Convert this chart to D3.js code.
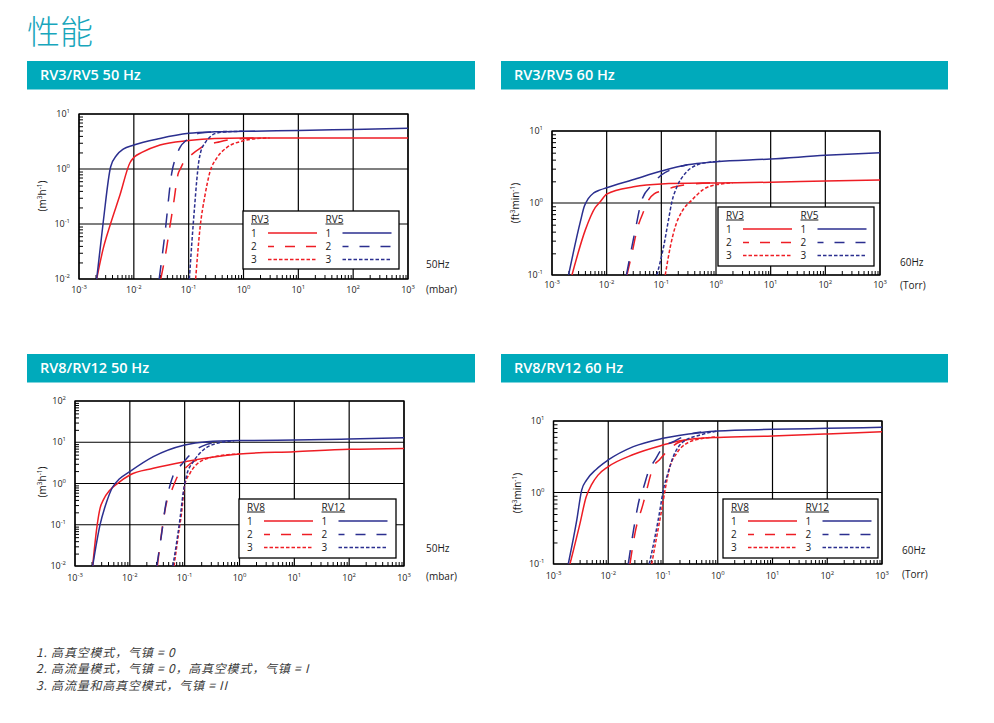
<!DOCTYPE html>
<html><head><meta charset="utf-8">
<script src="https://cdn.jsdelivr.net/npm/d3@7"></script>
<style>
body{margin:0;background:#fff;}
svg text{font-family:"Open Sans","Noto Sans",sans-serif;fill:#1a1a1a;}
</style></head><body>
<svg id="c" width="994" height="723"></svg>
<script>
// ---------------- DATA ----------------
const pageTitle = "性能";
const chartTitles = ["RV3/RV5 50 Hz", "RV3/RV5 60 Hz", "RV8/RV12 50 Hz", "RV8/RV12 60 Hz"];
const xTickExps = [-3, -2, -1, 0, 1, 2, 3];
const legendRows = ["1", "2", "3"];
const footnotes = [
  "1. 高真空模式，气镇 = 0",
  "2. 高流量模式，气镇 = 0，高真空模式，气镇 = I",
  "3. 高流量和高真空模式，气镇 = II"
];

// RV3/RV5 50 Hz  (pressure mbar, speed m3/h)
const rv3_50_1 = [[0.0021,0.01],[0.00277,0.036],[0.0037,0.096],[0.0056,0.34],[0.0085,1.3],[0.0102,1.65],[0.014,2.0],[0.03,2.73],[0.1,3.3],[0.3,3.6],[1,3.68],[10,3.67],[100,3.66],[1000,3.66]];
const rv5_50_1 = [[0.0021,0.01],[0.00277,0.11],[0.00378,1.1],[0.0049,1.8],[0.0064,2.3],[0.01,2.73],[0.03,3.6],[0.1,4.46],[0.3,4.75],[1,4.85],[10,5.0],[100,5.25],[1000,5.5]];
const rv3_50_2 = [[0.031,0.01],[0.04,0.039],[0.0438,0.071],[0.0525,0.22],[0.0647,0.835],[0.0704,1.0],[0.08,1.3],[0.096,1.57],[0.161,2.38],[0.373,3.14],[1,3.6],[2,3.66]];
const rv5_50_2 = [[0.029,0.01],[0.037,0.068],[0.049,0.835],[0.0605,1.8],[0.07,2.5],[0.092,3.37],[0.161,4.5],[0.3,4.75],[0.5,4.8]];
const rv3_50_3 = [[0.134,0.01],[0.161,0.084],[0.199,0.337],[0.245,0.89],[0.324,1.57],[0.494,2.45],[1,3.25],[2,3.62],[3,3.66]];
const rv5_50_3 = [[0.103,0.01],[0.115,0.05],[0.128,0.2],[0.14,0.6],[0.152,1.3],[0.165,2.0],[0.2,3.0],[0.25,3.9],[0.3,4.4],[0.5,4.75],[1,4.85]];

// RV3/RV5 60 Hz  (pressure Torr, speed ft3/min)
const rv3_60_1 = [[0.00232,0.1],[0.00406,0.42],[0.0062,0.87],[0.00764,1.04],[0.01,1.33],[0.031,1.68],[0.1,1.84],[1,1.9],[10,1.94],[100,2.02],[1000,2.08]];
const rv5_60_1 = [[0.00201,0.1],[0.0033,0.55],[0.0039,0.9],[0.0046,1.15],[0.0058,1.38],[0.0076,1.52],[0.01,1.63],[0.03,2.1],[0.1,2.78],[0.3,3.4],[1,3.75],[10,4.08],[100,4.59],[1000,5.0]];
const rv3_60_2 = [[0.0235,0.1],[0.029,0.2],[0.0358,0.42],[0.0487,0.8],[0.0583,1.1],[0.075,1.35],[0.103,1.47],[0.18,1.68],[0.4,1.85],[1,1.9]];
const rv5_60_2 = [[0.023,0.1],[0.0333,0.42],[0.044,1.1],[0.0673,1.78],[0.1,2.45],[0.15,2.9],[0.3,3.4]];
const rv3_60_3 = [[0.118,0.1],[0.146,0.247],[0.18,0.47],[0.238,0.76],[0.363,1.1],[0.59,1.55],[1.04,1.8],[2,1.9]];
const rv5_60_3 = [[0.083,0.1],[0.11,0.247],[0.135,0.58],[0.156,1.04],[0.193,1.68],[0.274,2.58],[0.447,3.37],[0.8,3.7],[1.2,3.8]];

// RV8/RV12 50 Hz  (pressure mbar, speed m3/h)
const rv8_50_1 = [[0.0021,0.01],[0.00249,0.082],[0.00286,0.25],[0.00329,0.4],[0.00436,0.7],[0.00577,0.97],[0.01,1.61],[0.0268,2.33],[0.1,3.38],[1,5.2],[10,5.9],[100,6.75],[1000,7.1]];
const rv12_50_1 = [[0.0021,0.01],[0.00286,0.099],[0.00378,0.36],[0.0048,0.8],[0.0065,1.3],[0.01,1.95],[0.0268,4.47],[0.1,8.57],[0.253,10.3],[1,11],[10,11.3],[100,12],[1000,12.9]];
const rv8_50_2 = [[0.0318,0.01],[0.0382,0.068],[0.0471,0.36],[0.0565,0.63],[0.0767,1.61],[0.0946,2.12],[0.144,3.4],[0.2,3.8]];
const rv12_50_2 = [[0.031,0.01],[0.038,0.06],[0.045,0.3],[0.05,0.6],[0.0622,1.61],[0.0885,2.92],[0.144,5.9],[0.253,8.9],[0.5,10.5]];
const rv8_50_3 = [[0.064,0.01],[0.0767,0.056],[0.0885,0.21],[0.1,0.92],[0.125,1.77],[0.191,3.38],[0.443,4.72],[1,5.2]];
const rv12_50_3 = [[0.061,0.01],[0.0824,0.143],[0.0946,0.63],[0.109,1.61],[0.144,3.38],[0.219,6.5],[0.385,9.4],[0.8,10.8]];

// RV8/RV12 60 Hz  (pressure Torr, speed ft3/min)
const rv8_60_1 = [[0.002,0.1],[0.00305,0.37],[0.00393,0.86],[0.00499,1.3],[0.0065,1.75],[0.01,2.3],[0.0287,3.4],[0.1,4.61],[0.205,5.31],[1,5.9],[10,6.17],[100,6.58],[1000,7.08]];
const rv12_60_1 = [[0.00186,0.1],[0.00266,0.41],[0.00327,1.08],[0.00404,1.5],[0.006,2.1],[0.01,2.85],[0.0287,4.38],[0.1,5.73],[0.474,6.87],[1,7.25],[10,7.64],[100,7.9],[1000,8.17]];
const rv8_60_2 = [[0.0249,0.1],[0.0308,0.27],[0.0437,0.71],[0.0503,1.08],[0.0666,2.3],[0.0855,2.85],[0.134,4.15],[0.205,5.13],[0.3,5.5]];
const rv12_60_2 = [[0.0232,0.1],[0.029,0.3],[0.038,0.87],[0.0437,1.15],[0.054,1.95],[0.0714,2.85],[0.1,4.29],[0.154,5.13],[0.3,6.5],[0.5,7.0]];
const rv8_60_3 = [[0.0622,0.1],[0.0767,0.24],[0.0946,0.57],[0.109,1.08],[0.134,2.3],[0.178,3.53],[0.271,4.87],[0.545,5.73],[1,6.0]];
const rv12_60_3 = [[0.056,0.1],[0.0714,0.24],[0.088,0.57],[0.1,1.03],[0.125,1.95],[0.154,3.17],[0.235,5.13],[0.474,6.37],[1,7.25]];

// ---------------- STYLE / LAYOUT ----------------
const RED = "#ee1d24", BLUE = "#2b2f8f", TEAL = "#00aabb";
const DASH = "14,12", DOT = "3.5,2";
const svg = d3.select("#c");

svg.append("text").attr("x", 27).attr("y", 44).attr("font-size", 33).attr("font-weight", 300)
  .style("font-family", "'Noto Sans CJK SC'").style("fill", "#18a6bc").text(pageTitle);

const charts = [
  {title: chartTitles[0], bar:[27,61,448], left:79, right:408, top:114, bottom:279, yDomain:[0.01,10],
   xLabelY:293, unit:"(mbar)", unitX:426, unitY:293, freq:"50Hz", freqY:268,
   yLab:{x:46, y:196, parts:[["(m",0],["3",1],["h",0],["-1",1],[")",0]]},
   legend:[243,211,156,58], heads:["RV3","RV5"],
   series:[[rv3_50_1,rv3_50_2,rv3_50_3],[rv5_50_1,rv5_50_2,rv5_50_3]]},
  {title: chartTitles[1], bar:[501,61,447], left:552, right:880, top:131, bottom:275, yDomain:[0.1,10],
   xLabelY:288, unit:"(Torr)", unitX:900, unitY:289, freq:"60Hz", freqY:266,
   yLab:{x:519, y:203, parts:[["(ft",0],["3",1],["min",0],["-1",1],[")",0]]},
   legend:[718,207,156,59], heads:["RV3","RV5"],
   series:[[rv3_60_1,rv3_60_2,rv3_60_3],[rv5_60_1,rv5_60_2,rv5_60_3]]},
  {title: chartTitles[2], bar:[27,354,448], left:75, right:404, top:401, bottom:566, yDomain:[0.01,100],
   xLabelY:581, unit:"(mbar)", unitX:426, unitY:580, freq:"50Hz", freqY:552,
   yLab:{x:46, y:482, parts:[["(m",0],["3",1],["h",0],["-1",1],[")",0]]},
   legend:[239,499,157,59], heads:["RV8","RV12"],
   series:[[rv8_50_1,rv8_50_2,rv8_50_3],[rv12_50_1,rv12_50_2,rv12_50_3]]},
  {title: chartTitles[3], bar:[501,354,447], left:553.5, right:882, top:421, bottom:564, yDomain:[0.1,10],
   xLabelY:579, unit:"(Torr)", unitX:902, unitY:578, freq:"60Hz", freqY:554,
   yLab:{x:521, y:493, parts:[["(ft",0],["3",1],["min",0],["-1",1],[")",0]]},
   legend:[723,499,155,59], heads:["RV8","RV12"],
   series:[[rv8_60_1,rv8_60_2,rv8_60_3],[rv12_60_1,rv12_60_2,rv12_60_3]]}
];

function powLabel(sel, exp, fs){
  sel.append("tspan").text("10");
  sel.append("tspan").attr("font-size", fs*0.66).attr("dy", -fs*0.42).text(String(exp));
}

charts.forEach((c, ci) => {
  const g = svg.append("g");
  // title bar
  g.append("rect").attr("x", c.bar[0]).attr("y", c.bar[1]).attr("width", c.bar[2]).attr("height", 28.5).attr("fill", TEAL);
  g.append("text").attr("x", c.bar[0] + 13).attr("y", c.bar[1] + 18.5).attr("font-size", 14.5).attr("font-weight", 600)
    .style("fill", "#fff").text(c.title);

  const x = d3.scaleLog().domain([1e-3, 1e3]).range([c.left, c.right]);
  const y = d3.scaleLog().domain(c.yDomain).range([c.bottom, c.top]);
  const yExps = d3.range(Math.round(Math.log10(c.yDomain[0])), Math.round(Math.log10(c.yDomain[1])) + 1);

  // minor ticks (inside)
  const xMinor = [], yMinor = [];
  xTickExps.slice(0, -1).forEach(e => d3.range(2, 10).forEach(m => xMinor.push(m * Math.pow(10, e))));
  yExps.slice(0, -1).forEach(e => d3.range(2, 10).forEach(m => yMinor.push(m * Math.pow(10, e))));
  const ax = g.append("g").attr("transform", `translate(0,${c.bottom})`)
    .call(d3.axisBottom(x).tickValues(xMinor).tickSizeInner(-4).tickSizeOuter(0).tickFormat(""));
  const ay = g.append("g").attr("transform", `translate(${c.left},0)`)
    .call(d3.axisLeft(y).tickValues(yMinor).tickSizeInner(-4).tickSizeOuter(0).tickFormat(""));
  [ax, ay].forEach(a => { a.select(".domain").remove(); a.selectAll("line").attr("stroke", "#000").attr("stroke-width", 1); });

  // major grid
  const xMaj = xTickExps.map(e => Math.pow(10, e));
  const yMaj = yExps.map(e => Math.pow(10, e));
  g.append("g").selectAll("line").data(xMaj).join("line")
    .attr("x1", d => x(d)).attr("x2", d => x(d)).attr("y1", c.top).attr("y2", c.bottom)
    .attr("stroke", "#000").attr("stroke-width", 1.2);
  g.append("g").selectAll("line").data(yMaj).join("line")
    .attr("x1", c.left).attr("x2", c.right).attr("y1", d => y(d)).attr("y2", d => y(d))
    .attr("stroke", "#000").attr("stroke-width", 1.2);
  g.append("rect").attr("x", c.left).attr("y", c.top).attr("width", c.right - c.left).attr("height", c.bottom - c.top)
    .attr("fill", "none").attr("stroke", "#000").attr("stroke-width", 1.3);

  // tick labels
  g.append("g").selectAll("text").data(xTickExps).join("text")
    .attr("x", d => x(Math.pow(10, d))).attr("y", c.xLabelY).attr("text-anchor", "middle").attr("font-size", 9)
    .each(function(d){ powLabel(d3.select(this), d, 9); });
  g.append("g").selectAll("text").data(yExps).join("text")
    .attr("x", c.left - 9).attr("y", d => y(Math.pow(10, d)) + 3).attr("text-anchor", "end").attr("font-size", 9)
    .each(function(d){ powLabel(d3.select(this), d, 9); });

  // axis titles
  g.append("text").attr("x", c.unitX).attr("y", c.unitY).attr("font-size", 10).text(c.unit);
  g.append("text").attr("x", c.unitX).attr("y", c.freqY).attr("font-size", 10).text(c.freq);
  const yl = g.append("text").attr("transform", `translate(${c.yLab.x},${c.yLab.y}) rotate(-90)`)
    .attr("text-anchor", "middle").attr("font-size", 10);
  c.yLab.parts.forEach(p => {
    const t = yl.append("tspan").text(p[0]);
    if (p[1]) t.attr("font-size", 6.5).attr("baseline-shift", "super");
  });

  // curves
  const clipId = "clip" + ci;
  g.append("clipPath").attr("id", clipId).append("rect")
    .attr("x", c.left).attr("y", c.top).attr("width", c.right - c.left).attr("height", c.bottom - c.top);
  const line = d3.line().x(d => x(d[0])).y(d => y(d[1])).curve(d3.curveMonotoneX);
  const colors = [RED, BLUE], dashes = [null, DASH, DOT];
  const cg = g.append("g").attr("clip-path", `url(#${clipId})`);
  [0, 1].forEach(si => c.series[si].forEach((data, mi) => {
    cg.append("path").datum(data).attr("d", line).attr("fill", "none")
      .attr("stroke", colors[si]).attr("stroke-width", 1.5)
      .attr("stroke-dasharray", dashes[mi]);
  }));

  // legend
  const [L, T, W, H] = c.legend;
  const lg = g.append("g");
  lg.append("rect").attr("x", L).attr("y", T).attr("width", W).attr("height", H)
    .attr("fill", "#fff").attr("stroke", "#000").attr("stroke-width", 1.3);
  const rowY = [T + 22, T + 35.5, T + 48.5];
  const colX = [L + 8, L + 82.5];
  c.heads.forEach((h, si) => {
    lg.append("text").attr("x", colX[si]).attr("y", T + 11.5).attr("font-size", 10)
      .attr("text-decoration", "underline").text(h);
    legendRows.forEach((r, mi) => {
      lg.append("text").attr("x", colX[si]).attr("y", rowY[mi] + 3.5).attr("font-size", 10).text(r);
      lg.append("line").attr("x1", colX[si] + 17).attr("x2", colX[si] + 66)
        .attr("y1", rowY[mi]).attr("y2", rowY[mi])
        .attr("stroke", colors[si]).attr("stroke-width", 1.3)
        .attr("stroke-dasharray", mi === 1 ? "10,11" : (mi === 2 ? "3.5,2" : null))
        .attr("stroke-dashoffset", mi === 1 ? 4 : 0);
    });
  });
});

// footnotes
svg.append("g").selectAll("text").data(footnotes).join("text")
  .attr("x", 36).attr("y", (d, i) => 657 + i * 16.3)
  .attr("font-size", 12).attr("font-style", "italic").attr("letter-spacing", 0.8)
  .style("font-family", "'Noto Sans CJK SC'").style("fill", "#3a3a3a")
  .text(d => d);
</script>
</body></html>
